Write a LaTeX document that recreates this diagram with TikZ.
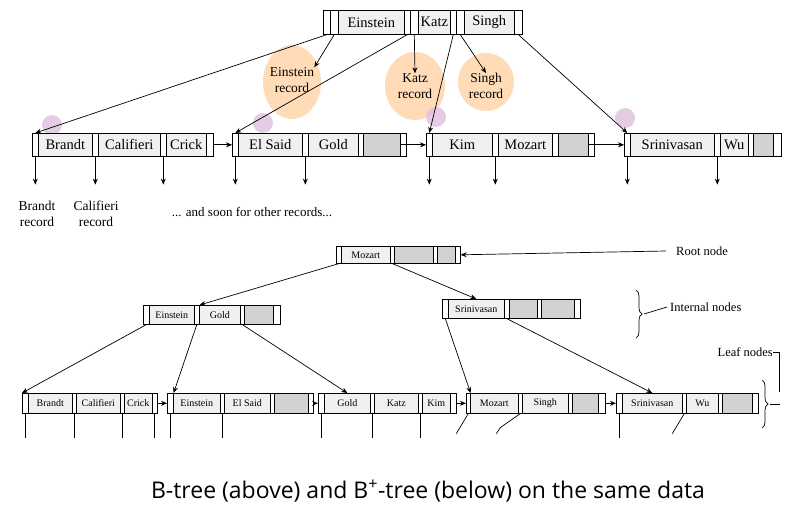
\documentclass[tikz,border=0pt]{standalone}
\usepackage{fontspec}
\setmainfont{Liberation Serif}
\newfontfamily\capfont{Open Sans}
\usetikzlibrary{arrows.meta,decorations.pathreplacing,calc}
\tikzset{
 cell/.style={draw,line width=0.6pt,inner sep=0pt,anchor=north west},
 ptr/.style={cell,fill=white},
 key/.style={cell,fill=gray!12},
 emp/.style={cell,fill=gray!35},
 arr/.style={-{Stealth[length=6pt,width=5pt]},line width=0.7pt},
 ln/.style={line width=0.7pt},
 blobo/.style={fill=orange!35!white,draw=none,opacity=0.8},
 blobp/.style={fill=violet!25!white,draw=none,opacity=0.8},
}
\newcommand\rec[5]{\gdef\cx{#2}%
 \foreach[count=\i] \w/\s/\t in {#5}{%
  \node[\s,minimum width=\w,minimum height=#4] (#1-\i) at (\cx,#3) {\t};
  \pgfmathsetmacro\nx{\cx+\w}\xdef\cx{\nx}}}
\begin{document}
\begin{tikzpicture}[x=1pt,y=-1pt]
\useasboundingbox (0,0) rectangle (800,524);
% highlight blobs
\fill[blobo] (292,82) ellipse (29 and 37);
\fill[blobo] (415,86) ellipse (30 and 34);
\fill[blobo] (486,82) ellipse (28 and 29);
\foreach \p in {(52,125),(263,123),(436,117),(625,118)} \fill[blobp] \p circle (10);
% ---------- B-tree ----------
\begin{scope}[font=\fontsize{14.5}{15}\selectfont]
\rec{r}{323}{10}{24}{7/ptr/,8/ptr/,66/key/Einstein,6/ptr/,8/ptr/,32/key/Katz,6/ptr/,8/ptr/,50/key/Singh,8/ptr/}
\rec{a}{32}{133}{23}{6/ptr/,54/key/Brandt,6/ptr/,62/key/Califieri,6/ptr/,40/key/Crick,7/ptr/}
\rec{b}{232}{133}{23}{6/ptr/,64/key/El Said,6/ptr/,50/key/Gold,5/ptr/,37/emp/,6/ptr/}
\rec{c}{426}{133}{23}{6/ptr/,60/key/Kim,6/ptr/,54/key/Mozart,6/ptr/,30/emp/,6/ptr/}
\rec{d}{624}{133}{23}{6/ptr/,84/key/Srinivasan,6/ptr/,28/key/Wu,5/ptr/,20/emp/,8/ptr/}
\node[align=center,inner sep=0pt,font=\fontsize{13.5}{16}\selectfont] (er) at (292,80) {Einstein\\record};
\node[align=center,inner sep=0pt,font=\fontsize{13.5}{16}\selectfont] (kr) at (415,86) {Katz\\record};
\node[align=center,inner sep=0pt,font=\fontsize{13.5}{16}\selectfont] (sr) at (486,86) {Singh\\record};
\node[align=center,inner sep=0pt,font=\fontsize{13.5}{16}\selectfont] (br) at (37,214) {Brandt\\record};
\node[align=center,inner sep=0pt,font=\fontsize{13.5}{16}\selectfont] (cr) at (96,214) {Califieri\\record};
\node[inner sep=0pt,font=\fontsize{13}{14}\selectfont] (etc) at (252,212) {... and soon for other records...};
\end{scope}
\draw[arr] (r-1.south) -- (a-1.north);
\draw[arr] (r-2.south) -- (er.north east);
\draw[arr] (r-4.south) -- (b-1.north);
\draw[arr] (r-5.south) -- (kr.north);
\draw[arr] (r-7.south) -- (c-1.north);
\draw[arr] (r-8.south) -- (sr.north);
\draw[arr] (r-10.south) -- (d-1.north);
\draw[arr] (a-7.east) -- (b-1.west);
\draw[arr] (b-6.east) -- (c-1.west);
\draw[arr] (c-6.east) -- (d-1.west);
\foreach \n in {a-1,a-3,a-5,b-1,b-3,c-1,c-3,d-1,d-3}
  \draw[arr] (\n.south) -- ++(0,28);
% ---------- B+ tree ----------
\begin{scope}[font=\fontsize{10}{11}\selectfont]
\rec{m}{336}{246}{17}{5/ptr/,49/key/Mozart,4/ptr/,39/emp/,4/ptr/,18/emp/,5/ptr/}
\rec{i}{143}{305}{19}{6/ptr/,45/key/Einstein,5/ptr/,41/key/Gold,4/ptr/,29/emp/,7/ptr/}
\rec{j}{442}{299}{19}{6/ptr/,56/key/Srinivasan,5/ptr/,28/emp/,4/ptr/,33/emp/,6/ptr/}
\rec{l}{22}{393}{20}{6/ptr/,44/key/Brandt,4/ptr/,44/key/Califieri,4/ptr/,28/key/Crick,5/ptr/}
\rec{n}{167}{393}{20}{6/ptr/,47/key/Einstein,4/ptr/,46/key/El Said,4/ptr/,34/emp/,5/ptr/}
\rec{o}{318}{393}{20}{6/ptr/,46/key/Gold,4/ptr/,44/key/Katz,4/ptr/,28/key/Kim,6/ptr/}
\rec{q}{466}{393}{20}{4/ptr/,48/key/Mozart,4/ptr/,46/key/Singh,4/ptr/,26/emp/,7/ptr/}
\rec{s}{616}{393}{20}{6/ptr/,60/key/Srinivasan,4/ptr/,32/key/Wu,4/ptr/,30/emp/,6/ptr/}
\end{scope}
\begin{scope}[font=\fontsize{12.5}{13}\selectfont]
\node[anchor=west,inner sep=0pt] (rn) at (676,251) {Root node};
\node[anchor=west,inner sep=0pt] (in) at (670,307) {Internal nodes};
\node[anchor=east,inner sep=0pt] (lf) at (773,352) {Leaf nodes};
\end{scope}
\draw[arr] ($(rn.west)+(-10,0)$) -- (m-7.east);
\draw[decorate,decoration={brace,amplitude=6pt},ln] (636,290) -- (636,338) coordinate[midway] (b1);
\draw[ln] ($(b1)+(8,0)$) -- ($(in.west)+(-3,0)$);
\draw[decorate,decoration={brace,amplitude=6pt},ln] (762,380) -- (762,428) coordinate[midway] (b2);
\draw[ln] (lf.east) -- ++(6,0) -- ++(0,40);
\draw[ln] ($(b2)+(8,0)$) -- ++(10,0);
\draw[arr] (m-1.south) -- (i-3.north east);
\draw[arr] (m-3.south) -- (j-2.north);
\draw[arr] (i-1.south) -- (l-1.north west);
\draw[arr] (i-3.south) -- (n-1.north east);
\draw[arr] (i-5.south) -- (o-2.north);
\draw[arr] (j-1.south) -- (q-1.north east);
\draw[arr] (j-3.south) -- (s-2.north);
\draw[arr] (l-7.east) -- (n-1.west);
\draw[arr] (n-7.east) -- (o-1.west);
\draw[arr] (o-7.east) -- (q-1.west);
\draw[arr] (q-7.east) -- (s-1.west);
\foreach \n in {l-1,l-3,l-5,l-7,n-1,n-3,o-1,o-3,o-5,s-1}
  \draw[ln] (\n.south) -- ++(0,24);
\draw[ln] (q-1.south) -- ++(-12,20);
\draw[ln] (q-3.south) -- ++(-20,14) -- ++(-4,6);
\draw[ln] (s-3.south) -- ++(-12,20);
\node[font=\capfont\fontsize{23}{26}\selectfont] (cap) at (428,491) {B-tree (above) and B\textsuperscript{+}-tree (below) on the same data};
\end{tikzpicture}
\end{document}
